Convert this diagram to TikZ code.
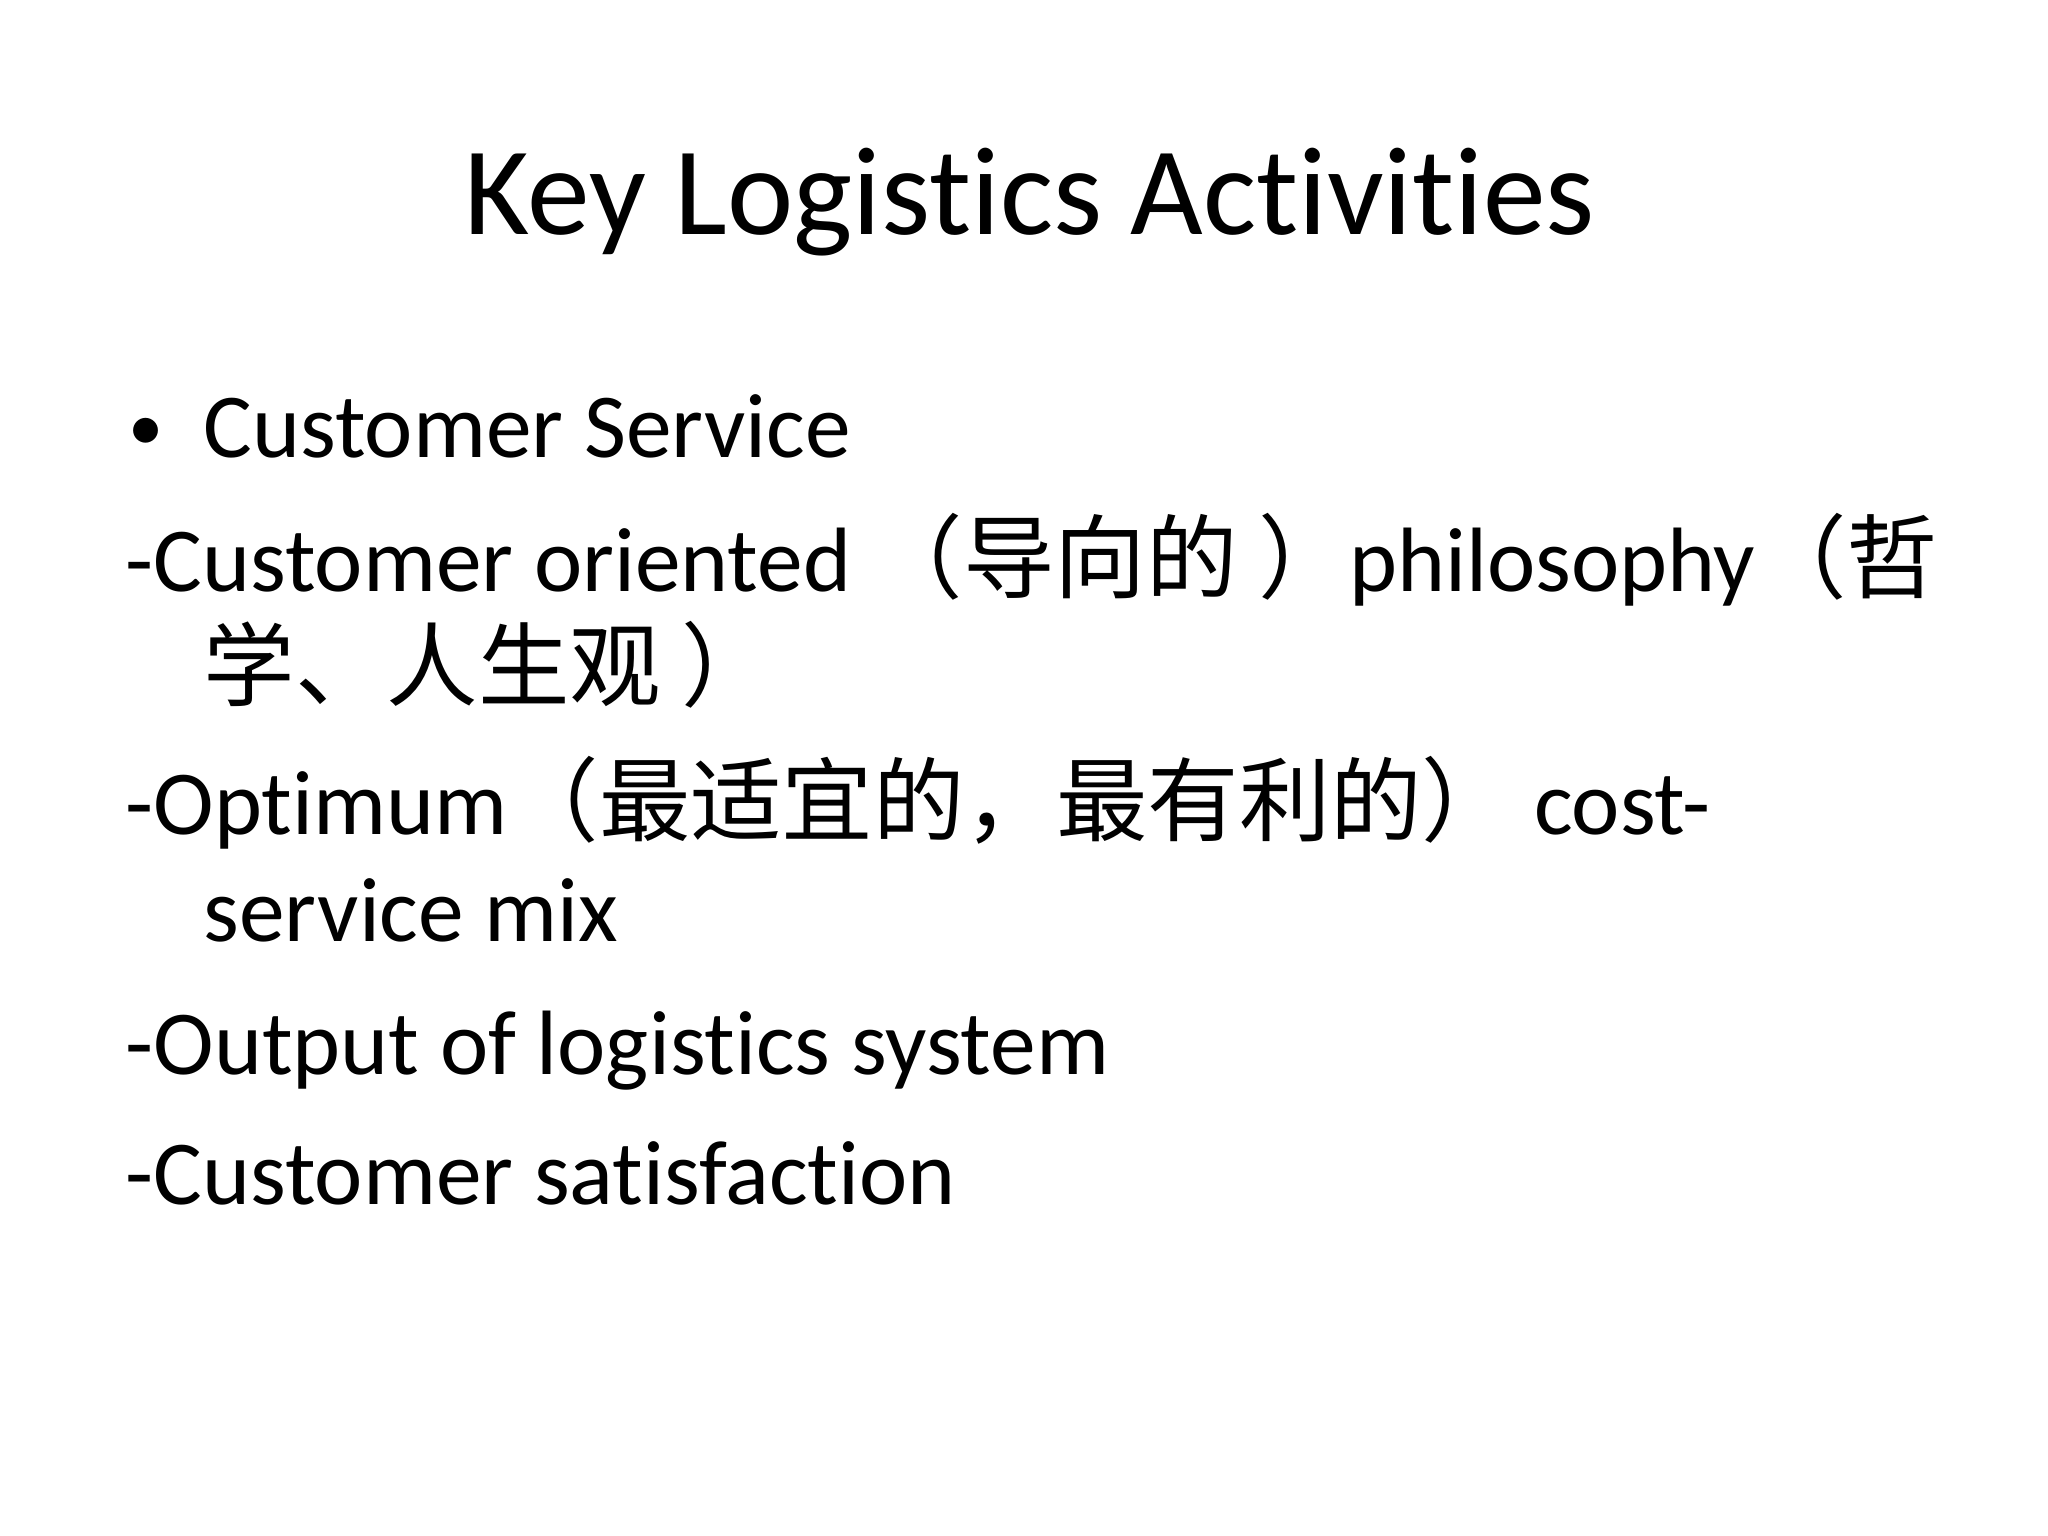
\documentclass[tikz,border=0pt]{standalone}
\usepackage{fontspec}
\setmainfont[Ligatures=NoCommon]{Carlito}
\newfontfamily\cjk{Noto Sans CJK SC}
\begin{document}
\begin{tikzpicture}[x=0.01cm,y=-0.01cm,
  body/.style={anchor=base west,inner sep=0pt,font=\fontsize{26}{28}\selectfont}]
\useasboundingbox (0,0) rectangle (2048,1536);
\node[anchor=base,inner sep=0pt,font=\fontsize{35.7}{38}\selectfont] (title) at (1030,234) {Key Logistics Activities};
\node[body,font=\fontsize{20}{22}\selectfont] (b) at (128,450) {•};
\node[body] (l1) at (203,457) {Customer Service};
\node[body] (l2) at (125,591) {-Customer oriented {\cjk （导向的 ）}philosophy{\cjk （哲}};
\node[body] (l2b) at (203,699) {{\cjk 学、人生观 ）}};
\node[body] (l3) at (125,834) {-Optimum{\cjk （最适宜的，最有利的）} cost-};
\node[body] (l3b) at (203,941) {service mix};
\node[body] (l4) at (125,1074) {-Output of logistics system};
\node[body] (l5) at (125,1204) {-Customer satisfaction};
\end{tikzpicture}
\end{document}
